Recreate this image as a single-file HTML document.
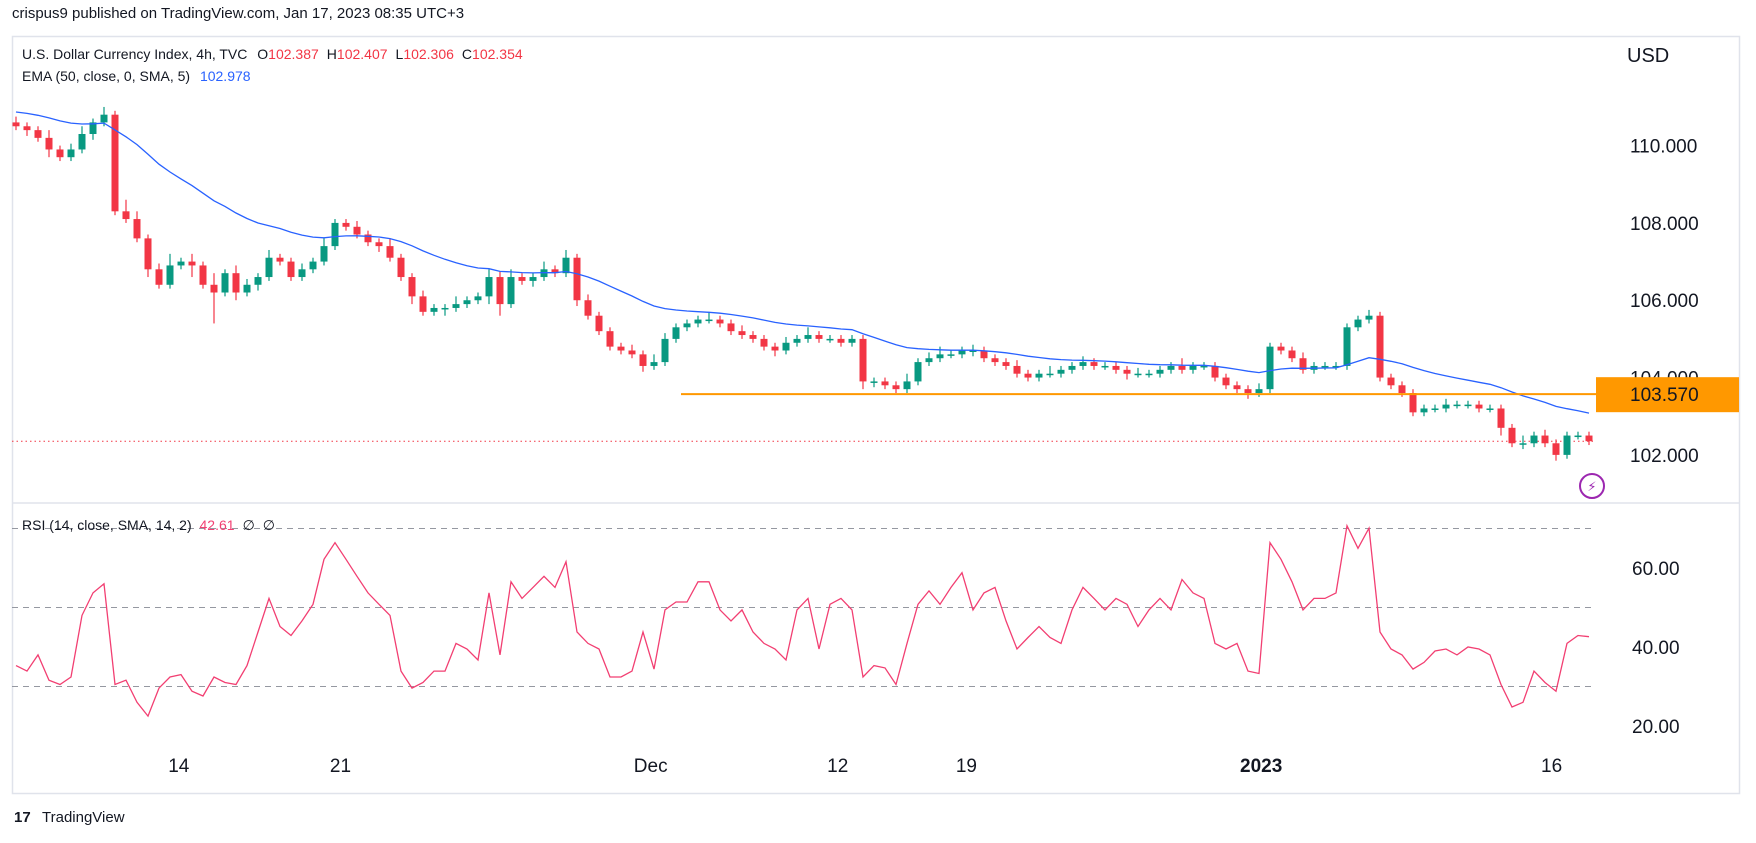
<!DOCTYPE html>
<html><head><meta charset="utf-8">
<style>
body{margin:0;background:#fff;font-family:"Liberation Sans","DejaVu Sans",sans-serif;}
svg text{font-family:"Liberation Sans","DejaVu Sans",sans-serif;}
</style></head>
<body>
<svg id="c" width="1756" height="838" xmlns="http://www.w3.org/2000/svg">
<rect x="0" y="0" width="1756" height="838" fill="#fff"/>
<text x="12" y="18" font-size="15" fill="#131722">crispus9 published on TradingView.com, Jan 17, 2023 08:35 UTC+3</text>
<rect x="12.5" y="36.5" width="1727" height="757" fill="none" stroke="#e0e3eb" stroke-width="1.5"/>
<line x1="12" y1="503" x2="1739" y2="503" stroke="#e0e3eb" stroke-width="1.5"/>
<g id="price"></g>
<g id="rsi"></g>
<text x="22" y="59" font-size="14" fill="#131722">U.S. Dollar Currency Index, 4h, TVC <tspan dx="6">O</tspan><tspan fill="#f23645">102.387</tspan><tspan dx="8">H</tspan><tspan fill="#f23645">102.407</tspan><tspan dx="8">L</tspan><tspan fill="#f23645">102.306</tspan><tspan dx="8">C</tspan><tspan fill="#f23645">102.354</tspan></text>
<text x="22" y="81" font-size="14" fill="#131722">EMA (50, close, 0, SMA, 5) <tspan dx="6" fill="#2962ff">102.978</tspan></text>
<text x="22" y="530" font-size="14" fill="#131722">RSI (14, close, SMA, 14, 2) <tspan dx="4" fill="#f23f72">42.61</tspan><tspan dx="8">∅</tspan><tspan dx="8">∅</tspan></text>
<text x="1627" y="62" font-size="20" fill="#131722">USD</text>
<g><circle cx="1592" cy="486" r="12" fill="none" stroke="#9c27b0" stroke-width="2"/><text x="1592" y="491" font-size="13" fill="#9c27b0" text-anchor="middle">⚡</text></g>
<g><text x="14" y="822" font-size="15" font-weight="bold" fill="#131722">17</text><text x="42" y="822" font-size="15" fill="#131722">TradingView</text></g>
</svg>
<script>
const closes=[110.5,110.4,110.2,109.9,109.7,109.9,110.3,110.6,110.8,108.3,108.1,107.6,106.8,106.4,106.9,107.0,106.9,106.4,106.2,106.7,106.2,106.4,106.6,107.1,107.0,106.6,106.8,107.0,107.4,108.0,107.9,107.7,107.5,107.4,107.1,106.6,106.1,105.7,105.8,105.8,105.9,106.0,106.1,106.6,105.9,106.6,106.5,106.6,106.8,106.7,107.1,106.0,105.6,105.2,104.8,104.7,104.6,104.3,104.4,105.0,105.3,105.4,105.5,105.5,105.4,105.2,105.1,105.0,104.8,104.7,104.9,105.0,105.1,105.0,105.0,104.9,105.0,103.9,103.9,103.8,103.7,103.9,104.4,104.5,104.6,104.6,104.7,104.7,104.5,104.4,104.3,104.1,104.0,104.1,104.1,104.2,104.3,104.4,104.3,104.3,104.2,104.1,104.1,104.1,104.2,104.3,104.2,104.3,104.3,104.0,103.8,103.7,103.6,103.7,104.8,104.7,104.5,104.2,104.3,104.3,104.3,105.3,105.5,105.6,104.0,103.8,103.6,103.1,103.2,103.2,103.3,103.3,103.3,103.2,103.2,102.7,102.3,102.3,102.5,102.3,102.0,102.5,102.5,102.354];
const wickUp=[0.15,0.1,0.1,0.2,0.1,0.15,0.2,0.1,0.2,0.1,0.3,0.2,0.1,0.15,0.3,0.1,0.2,0.1,0.3,0.1,0.2,0.15,0.1,0.2,0.1,0.1,0.15,0.1,0.2,0.1,0.1,0.15,0.1,0.1,0.2,0.1,0.1,0.15,0.1,0.1,0.2,0.1,0.1,0.2,0.15,0.2,0.1,0.1,0.2,0.1,0.2,0.1,0.15,0.1,0.1,0.1,0.15,0.1,0.2,0.15,0.1,0.1,0.1,0.2,0.1,0.1,0.15,0.1,0.1,0.1,0.15,0.1,0.2,0.1,0.1,0.1,0.1,0.1,0.1,0.1,0.1,0.2,0.1,0.15,0.2,0.1,0.1,0.15,0.1,0.1,0.1,0.15,0.1,0.1,0.2,0.1,0.1,0.15,0.1,0.1,0.1,0.1,0.15,0.1,0.1,0.1,0.2,0.1,0.1,0.1,0.1,0.1,0.1,0.15,0.1,0.1,0.1,0.15,0.1,0.1,0.1,0.1,0.1,0.15,0.1,0.1,0.1,0.1,0.1,0.1,0.15,0.1,0.1,0.1,0.1,0.1,0.1,0.2,0.1,0.15,0.1,0.1,0.1,0.1,0.15,0.1];
const wickDn=[0.1,0.15,0.1,0.2,0.1,0.1,0.1,0.15,0.1,0.1,0.1,0.1,0.2,0.1,0.1,0.1,0.3,0.1,0.8,0.1,0.2,0.1,0.15,0.1,0.1,0.1,0.1,0.1,0.1,0.1,0.1,0.1,0.1,0.15,0.1,0.1,0.2,0.1,0.1,0.2,0.1,0.1,0.1,0.2,0.3,0.1,0.1,0.15,0.1,0.1,0.1,0.15,0.1,0.1,0.1,0.1,0.1,0.15,0.1,0.1,0.1,0.1,0.1,0.1,0.1,0.1,0.1,0.1,0.1,0.15,0.1,0.1,0.1,0.1,0.1,0.1,0.1,0.2,0.15,0.1,0.1,0.1,0.1,0.1,0.1,0.1,0.1,0.15,0.1,0.1,0.1,0.1,0.1,0.1,0.1,0.1,0.1,0.1,0.1,0.1,0.1,0.15,0.1,0.1,0.1,0.1,0.1,0.1,0.1,0.1,0.1,0.1,0.15,0.1,0.1,0.1,0.1,0.1,0.1,0.1,0.1,0.1,0.1,0.1,0.1,0.1,0.1,0.1,0.1,0.1,0.1,0.1,0.1,0.1,0.1,0.2,0.1,0.15,0.1,0.1,0.15,0.1,0.1,0.1,0.1,0.1];
const rsiValues=[35.3,33.9,38,31.6,30.5,32.4,48,53.7,56,30.5,31.6,26,22.5,29.6,32.4,33,28.8,27.6,32.4,31,30.5,35.3,43.8,52.3,45.2,42.9,46.6,50.8,62.2,66.4,62.2,57.9,53.7,50.8,48,33.9,29.6,31,33.9,33.9,40.9,39.5,36.7,53.7,38,56.5,52.3,55.1,57.9,55.1,61.6,43.8,40.9,39.5,32.4,32.4,33.9,43.8,34.4,49.4,51.4,51.4,56.5,56.5,49.4,46.6,49.4,43.8,40.9,39.5,36.7,49.4,52.3,39.5,50.8,52.3,49.4,32.4,35.3,34.7,30.5,40.9,50.8,54.2,50.8,55.1,58.8,49.4,53.7,55.1,46.6,39.5,42.4,45.2,42.4,40.9,49.4,55.1,52.3,49.4,52.3,50.8,45.2,49.4,52.3,49.4,57.1,53.7,52.3,40.9,39.5,40.9,33.9,33.3,66.4,62.2,56.5,49.4,52.3,52.3,53.7,70.7,65,70.1,43.8,39.5,38,34.4,36.1,39,39.5,38,40,39.5,38,30.5,24.8,26,33.9,31,28.8,40.9,42.9,42.6];
const priceTicks=["110.000","108.000","106.000","104.000","102.000"];
const priceTickValues=[110,108,106,104,102];
const rsiTicks=["60.00","40.00","20.00"];
const rsiTickValues=[60,40,20];
const rsiBands=[70,50,30];
const timeLabels=["14","21","Dec","12","19","2023","16"];
const timeLabelIdx=[14.8,29.5,57.7,74.7,86.4,113.2,139.6];
const supportLevel=103.570;
const lastPrice=102.354;
const firstOpen=110.6;
const emaSeed=110.9;

const NS="http://www.w3.org/2000/svg";
const px=i=>16+i*11;
const py=v=>145.6+(110-v)*38.66;
const ry=v=>568-(v-60)*3.95;
function mk(tag,attrs,parent){const e=document.createElementNS(NS,tag);for(const k in attrs)e.setAttribute(k,attrs[k]);parent.appendChild(e);return e;}
const P=document.getElementById('price'),R=document.getElementById('rsi'),S=document.getElementById('c');

priceTicks.forEach((t,k)=>{const e=mk('text',{x:1630,y:py(priceTickValues[k])+7,'font-size':19,fill:'#131722'},S);e.textContent=t;

});
const lp=mk('line',{x1:12,x2:1596,y1:py(lastPrice),y2:py(lastPrice),stroke:'#f23645','stroke-width':1,'stroke-dasharray':'1.5 3'},P);


for(let i=0;i<closes.length;i++){
  const o=i===0?firstOpen:closes[i-1],c=closes[i];
  const hi=Math.max(o,c)+wickUp[i],lo=Math.min(o,c)-wickDn[i];
  const col=c>=o?'#089981':'#f23645';
  const g=mk('g',{},P);
  
  
  mk('line',{x1:px(i),x2:px(i),y1:py(hi),y2:py(lo),stroke:col,'stroke-width':1.2},g);
  const top=py(Math.max(o,c)),h=Math.max(1.5,py(Math.min(o,c))-top);
  mk('rect',{x:px(i)-3.5,y:top,width:7,height:h,fill:col},g);
}
let ema=emaSeed,pts=[];const a=2/26;
for(let i=0;i<closes.length;i++){ema=ema+a*(closes[i]-ema);pts.push(px(i)+','+py(ema).toFixed(1));}
const el=mk('polyline',{points:pts.join(' '),fill:'none',stroke:'#2962ff','stroke-width':1.3},P);


const sl=mk('line',{x1:681,x2:1596,y1:py(supportLevel),y2:py(supportLevel),stroke:'#ff9800','stroke-width':2},P);


const sb=mk('rect',{x:1596,y:py(supportLevel)-17,width:143,height:35,fill:'#ff9800'},S);


const st=mk('text',{x:1630,y:py(supportLevel)+7,'font-size':19,fill:'#131722'},S);st.textContent=supportLevel.toFixed(3);


rsiBands.forEach(v=>{const b=mk('line',{x1:12,x2:1596,y1:ry(v),y2:ry(v),stroke:'#9598a1','stroke-width':1,'stroke-dasharray':'6 5'},R);

});
rsiTicks.forEach((t,k)=>{const e=mk('text',{x:1632,y:ry(rsiTickValues[k])+7,'font-size':19,fill:'#131722'},S);e.textContent=t;

});
const rl=mk('polyline',{points:rsiValues.map((v,i)=>px(i)+','+ry(v).toFixed(1)).join(' '),fill:'none',stroke:'#f23f72','stroke-width':1.3},R);


timeLabels.forEach((t,k)=>{const e=mk('text',{x:px(timeLabelIdx[k]),y:772,'font-size':19,fill:'#131722','text-anchor':'middle','font-weight':t==='2023'?'bold':'normal'},S);e.textContent=t;

});
</script>
</body></html>
